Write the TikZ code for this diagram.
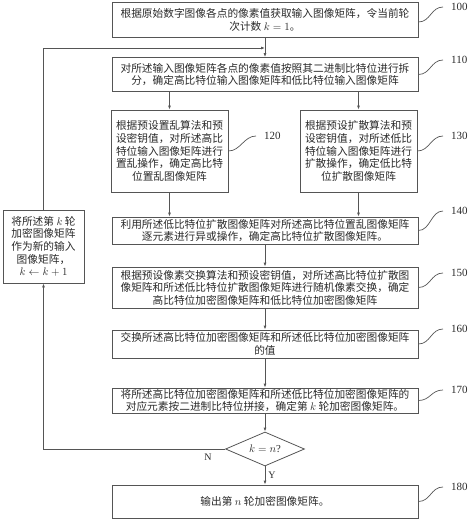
\documentclass[tikz,border=0pt]{standalone}
\usepackage{fontspec}
\setmainfont{Liberation Serif}
\newfontfamily\cjk{Noto Sans CJK SC}
\usetikzlibrary{shapes.geometric,arrows.meta,calc}
\definecolor{ln}{HTML}{555555}
\definecolor{tx}{HTML}{2A2A2A}
\tikzset{
  box/.style={draw=ln, line width=0.8pt, rectangle, inner sep=0pt, align=center, text=tx,
    font=\cjk\fontsize{10.7}{12.6}\selectfont},
  wide/.style={box, minimum width=306pt},
  narrow/.style={box, minimum width=117pt},
  dia/.style={draw=ln, line width=0.8pt, shape=diamond, aspect=2.3, inner sep=0pt,
    minimum width=79pt, minimum height=34pt, text=tx, font=\fontsize{10.7}{12}\selectfont},
  arr/.style={draw=ln, line width=0.8pt, -{Latex[length=4pt,width=3pt]}},
  ln/.style={draw=ln, line width=0.8pt},
  lab/.style={anchor=west, inner xsep=8pt, inner ysep=1pt, text=tx, font=\fontsize{11}{12}\selectfont},
  yn/.style={text=tx, inner sep=1pt, font=\fontsize{10}{11}\selectfont},
  sq/.style={draw=ln, line width=0.7pt}
}
\newcommand{\squig}[2]{\draw[sq] (#1) .. controls +(12,0) and +(-12,0) .. (#2.west);}
\begin{document}
\begin{tikzpicture}[x=1pt,y=-1pt]
\useasboundingbox (0,0) rectangle (474,523);
\node[wide, minimum height=35pt] (b100) at (265,20) {根据原始数字图像各点的像素值获取输入图像矩阵，令当前轮\\次计数 $k=1$。};
\node[wide, minimum height=34pt] (b110) at (265,74.5) {对所述输入图像矩阵各点的像素值按照其二进制比特位进行拆\\分，确定高比特位输入图像矩阵和低比特位输入图像矩阵};
\node[narrow, minimum height=82pt] (b120) at (169.5,151) {根据预设置乱算法和预\\设密钥值，对所述高比\\特位输入图像矩阵进行\\置乱操作，确定高比特\\位置乱图像矩阵};
\node[narrow, minimum height=82pt] (b130) at (358.5,151) {根据预设扩散算法和预\\设密钥值，对所述低比\\特位输入图像矩阵进行\\扩散操作，确定低比特\\位扩散图像矩阵};
\node[wide, minimum height=27pt] (b140) at (265,230.5) {利用所述低比特位扩散图像矩阵对所述高比特位置乱图像矩阵\\逐元素进行异或操作，确定高比特位扩散图像矩阵。};
\node[wide, minimum height=41pt] (b150) at (265,287.5) {根据预设像素交换算法和预设密钥值，对所述高比特位扩散图\\像矩阵和所述低比特位扩散图像矩阵进行随机像素交换，确定\\高比特位加密图像矩阵和低比特位加密图像矩阵};
\node[wide, minimum height=28pt] (b160) at (265,344) {交换所述高比特位加密图像矩阵和所述低比特位加密图像矩阵\\的值};
\node[wide, minimum height=25pt] (b170) at (265,400.5) {将所述高比特位加密图像矩阵和所述低比特位加密图像矩阵的\\对应元素按二进制比特位拼接，确定第 $k$ 轮加密图像矩阵。};
\node[dia] (d) at (265,449) {$k=n$?};
\node[wide, minimum height=33pt] (b180) at (265,501.5) {输出第 $n$ 轮加密图像矩阵。};
\node[box, minimum width=81pt, minimum height=73pt] (bl) at (43.5,246.5) {将所述第 $k$ 轮\\加密图像矩阵\\作为新的输入\\图像矩阵，\\$k\leftarrow k+1$};
% labels
\node[lab] (l100) at (443,7) {100};
\node[lab] (l110) at (443,60) {110};
\node[lab] (l120) at (256,136) {120};
\node[lab] (l130) at (443,136) {130};
\node[lab] (l140) at (443,211) {140};
\node[lab] (l150) at (443,273) {150};
\node[lab] (l160) at (443,329) {160};
\node[lab] (l170) at (443,390) {170};
\node[lab] (l180) at (443,487) {180};
\squig{$(b100.east)+(0,2)$}{l100}
\squig{b110.east}{l110}
\squig{b120.east}{l120}
\squig{b130.east}{l130}
\squig{b140.east}{l140}
\squig{b150.east}{l150}
\squig{b160.east}{l160}
\squig{b170.east}{l170}
\squig{b180.east}{l180}
% arrows
\draw[arr] (b100.south) -- (b110.north);
\draw[arr] (b120.north |- b110.south) -- (b120.north);
\draw[arr] (b130.north |- b110.south) -- (b130.north);
\draw[arr] (b120.south) -- (b120.south |- b140.north);
\draw[arr] (b130.south) -- (b130.south |- b140.north);
\draw[arr] (b140.south) -- (b150.north);
\draw[arr] (b150.south) -- (b160.north);
\draw[arr] (b160.south) -- (b170.north);
\draw[arr] (b170.south) -- (d.north);
\draw[arr] (d.south) -- (b180.north);
% feedback
\coordinate (j1) at (265,48);
\draw[arr] (d.west) -| (bl.south);
\draw[arr] (bl.north) |- (j1);
\node[yn] (nN) at (208,457) {N};
\node[yn] (nY) at (272,475) {Y};
\end{tikzpicture}
\end{document}
